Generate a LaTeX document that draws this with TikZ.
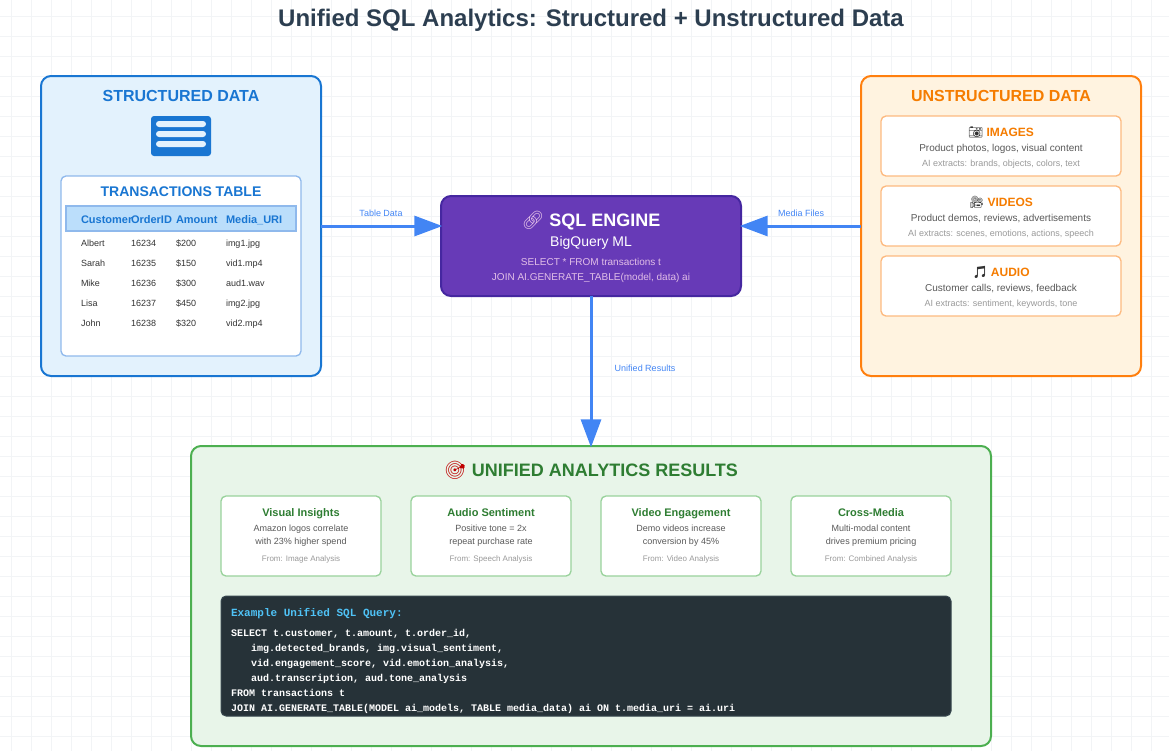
\documentclass[tikz,border=0pt]{standalone}
\usepackage{fontspec}
\setmainfont{Liberation Sans}
\setmonofont{Liberation Mono}
\newfontfamily\emojifont{Noto Emoji}
\usetikzlibrary{arrows.meta}
\definecolor{titleink}{HTML}{2C3E50}
\definecolor{gridink}{HTML}{F2F4F6}
\definecolor{flowink}{HTML}{4285F4}
\definecolor{blueink}{HTML}{1976D2}
\definecolor{bluefill}{HTML}{E3F2FD}
\definecolor{bluesoft}{HTML}{8FB9EC}
\definecolor{bandfill}{HTML}{BBDEFB}
\definecolor{orangeink}{HTML}{F57C00}
\definecolor{orangeline}{HTML}{FF7F0E}
\definecolor{orangefill}{HTML}{FFF3E0}
\definecolor{orangesoft}{HTML}{FDBA80}
\definecolor{greenink}{HTML}{2E7D32}
\definecolor{greenline}{HTML}{4CAF50}
\definecolor{greenfill}{HTML}{E8F5E9}
\definecolor{greensoft}{HTML}{99D29C}
\definecolor{engineink}{HTML}{673AB7}
\definecolor{engineline}{HTML}{4527A0}
\definecolor{enginesoft}{HTML}{E1BEE7}
\definecolor{codefill}{HTML}{263238}
\definecolor{codeline}{HTML}{37474F}
\definecolor{codeblue}{HTML}{4FC3F7}
\tikzset{
	panel/.style={rounded corners=7.5pt,line width=1.5pt,inner sep=0pt,outer sep=0pt},
	card/.style={rounded corners=3.75pt,line width=1pt,fill=white,inner sep=0pt,outer sep=0pt},
	txt/.style={inner sep=0pt,outer sep=0pt,anchor=base},
	txtl/.style={inner sep=0pt,outer sep=0pt,anchor=base west},
	flow/.style={draw=flowink,line width=2.25pt,-{Triangle[length=21pt,width=15pt]},shorten >=-1pt},
	flowlabel/.style={txt,text=flowink,font=\fontsize{6.75}{8}\selectfont},
	codetext/.style={txtl,text=white,font=\fontsize{7.5}{9}\ttfamily\bfseries}
}

\begin{document}
\begin{tikzpicture}[x=0.75pt,y=-0.75pt]
	\useasboundingbox (0,0) rectangle (1169,751);
	
	% the faint grid behind everything
	\foreach \gx in {0,...,57}
	\draw[gridink,line width=0.75pt] ({11.5+20*\gx},0) -- ({11.5+20*\gx},751);
	\foreach \gy in {0,...,36}
	\draw[gridink,line width=0.75pt] (0,{16.5+20*\gy}) -- (1169,{16.5+20*\gy});
	
	\node (maintitle) [txt,text=titleink,font=\fontsize{18}{22}\bfseries\selectfont] at (591,26)
	{Unified SQL Analytics: Structured + Unstructured Data};
	
	% the three big panels and the engine
	\node (structured) [panel,draw=blueink,fill=bluefill,minimum width=210pt,minimum height=225pt] at (181,226) {};
	\node (unstructured) [panel,draw=orangeline,fill=orangefill,minimum width=210pt,minimum height=225pt] at (1001,226) {};
	\node (engine) [panel,draw=engineline,fill=engineink,minimum width=225pt,minimum height=75pt] at (591,246) {};
	\node (results) [panel,draw=greenline,fill=greenfill,minimum width=600pt,minimum height=225pt] at (591,596) {};
	
	% we draw the connectors
	\draw[flow] (structured.east) -- (structured.east -| engine.west);
	\draw[flow] (unstructured.west) -- (unstructured.west -| engine.east);
	\draw[flow] (engine.south) -- (results.north);
	\node (tablelabel) [flowlabel] at (381,216) {Table Data};
	\node (medialabel) [flowlabel] at (801,216) {Media Files};
	\node (unifiedlabel) [flowlabel] at (645,371) {Unified Results};
	
	% left panel
	\node (structuredtitle) [txt,text=blueink,font=\fontsize{12}{14}\bfseries\selectfont] at (181,101) {STRUCTURED DATA};
	\node (dbicon) [rounded corners=2.25pt,fill=blueink,inner sep=0pt,minimum width=45pt,minimum height=30pt] at (181,136) {};
	\foreach \by in {124,134,144}
	\node (dbbar\by) [rounded corners=2.25pt,fill=bluefill,inner sep=0pt,minimum width=37.5pt,minimum height=4.5pt] at (181,\by) {};
	\node (tablebox) [card,draw=bluesoft,minimum width=180pt,minimum height=135pt] at (181,266) {};
	\node (tabletitle) [txt,text=blueink,font=\fontsize{10.5}{12}\bfseries\selectfont] at (181,196) {TRANSACTIONS TABLE};
	\node (headband) [draw=bluesoft,fill=bandfill,line width=1pt,inner sep=0pt,minimum width=172.5pt,minimum height=18.75pt] at (181,218.5) {};
	\foreach \hx/\htxt in {81/Customer,131/OrderID,176/Amount,226/Media\_URI}
	\node (head\hx) [txtl,text=blueink,font=\fontsize{8.25}{10}\bfseries\selectfont] at (\hx,223) {\htxt};
	\foreach \cust/\oid/\amt/\uri [count=\r from 0] in {Albert/16234/200/img1.jpg,Sarah/16235/150/vid1.mp4,Mike/16236/300/aud1.wav,Lisa/16237/450/img2.jpg,John/16238/320/vid2.mp4}
	{
		\node (cust\r) [txtl,text=black!80,font=\fontsize{6.75}{8}\selectfont] at (81,{246+20*\r}) {\cust};
		\node (oid\r) [txtl,text=black!80,font=\fontsize{6.75}{8}\selectfont] at (131,{246+20*\r}) {\oid};
		\node (amt\r) [txtl,text=black!80,font=\fontsize{6.75}{8}\selectfont] at (176,{246+20*\r}) {\$\amt};
		\node (uri\r) [txtl,text=black!80,font=\fontsize{6.75}{8}\selectfont] at (226,{246+20*\r}) {\uri};
	}
	
	% the engine text
	\node (enginetitle) [txt,text=white,font=\fontsize{13.5}{16}\bfseries\selectfont] at (591,226) {{\emojifont\color{enginesoft}🔗} SQL ENGINE};
	\node (enginesub) [txt,text=white,font=\fontsize{10.5}{12}\selectfont] at (591,246) {BigQuery ML};
	\node (engineone) [txt,text=enginesoft,font=\fontsize{7.5}{9}\selectfont] at (591,265) {SELECT * FROM transactions t};
	\node (enginetwo) [txt,text=enginesoft,font=\fontsize{7.5}{9}\selectfont] at (591,280) {JOIN AI.GENERATE\_TABLE(model, data) ai};
	
	% right panel
	\node (unstructuredtitle) [txt,text=orangeink,font=\fontsize{12}{14}\bfseries\selectfont] at (1001,101) {UNSTRUCTURED DATA};
	\foreach \my/\mico/\mhead/\mdesc/\mfrom in {
		116/📷/IMAGES/{Product photos, logos, visual content}/{AI extracts: brands, objects, colors, text},
		186/🎥/VIDEOS/{Product demos, reviews, advertisements}/{AI extracts: scenes, emotions, actions, speech},
		256/🎵/AUDIO/{Customer calls, reviews, feedback}/{AI extracts: sentiment, keywords, tone}}
	{
		\node (media\my) [card,draw=orangesoft,minimum width=180pt,minimum height=45pt] at (1001,{\my+30}) {};
		\node (mediahead\my) [txt,text=orangeink,font=\fontsize{9}{11}\bfseries\selectfont] at (1001,{\my+20}) {{\emojifont\color{black!80}\mico} \mhead};
		\node (mediadesc\my) [txt,text=black!65,font=\fontsize{7.5}{9}\selectfont] at (1001,{\my+35}) {\mdesc};
		\node (mediafrom\my) [txt,text=black!40,font=\fontsize{6.75}{8}\selectfont] at (1001,{\my+50}) {\mfrom};
	}
	
	% bottom panel
	\node (resultstitle) [txt,text=greenink,font=\fontsize{13.5}{16}\bfseries\selectfont] at (591,476) {{\emojifont\color{red!75!black}🎯} UNIFIED ANALYTICS RESULTS};
	\foreach \cx/\chead/\cone/\ctwo/\cfrom in {
		301/Visual Insights/Amazon logos correlate/with 23\% higher spend/From: Image Analysis,
		491/Audio Sentiment/Positive tone = 2x/repeat purchase rate/From: Speech Analysis,
		681/Video Engagement/Demo videos increase/conversion by 45\%/From: Video Analysis,
		871/Cross-Media/Multi-modal content/drives premium pricing/From: Combined Analysis}
	{
		\node (insight\cx) [card,draw=greensoft,minimum width=120pt,minimum height=60pt] at (\cx,536) {};
		\node (insighthead\cx) [txt,text=greenink,font=\fontsize{8.25}{10}\bfseries\selectfont] at (\cx,516) {\chead};
		\node (insightone\cx) [txt,text=black!65,font=\fontsize{6.75}{8}\selectfont] at (\cx,531) {\cone};
		\node (insighttwo\cx) [txt,text=black!65,font=\fontsize{6.75}{8}\selectfont] at (\cx,544) {\ctwo};
		\node (insightfrom\cx) [txt,text=black!40,font=\fontsize{6}{7}\selectfont] at (\cx,561) {\cfrom};
	}
	
	% the query block
	\node (codebox) [rounded corners=3.75pt,draw=codeline,fill=codefill,line width=0.75pt,inner sep=0pt,minimum width=547.5pt,minimum height=90pt] at (586,656) {};
	\node (codetitle) [txtl,text=codeblue,font=\fontsize{8.25}{10}\ttfamily\bfseries] at (231,616) {Example Unified SQL Query:};
	\foreach \lx/\ly/\ltxt in {
		231/636/{SELECT t.customer, t.amount, t.order\_id,},
		251/651/{img.detected\_brands, img.visual\_sentiment,},
		251/666/{vid.engagement\_score, vid.emotion\_analysis,},
		251/681/{aud.transcription, aud.tone\_analysis},
		231/696/{FROM transactions t},
		231/711/{JOIN AI.GENERATE\_TABLE(MODEL ai\_models, TABLE media\_data) ai ON t.media\_uri = ai.uri}}
	\node (codeline\ly) [codetext] at (\lx,\ly) {\ltxt};
\end{tikzpicture}
\end{document}
